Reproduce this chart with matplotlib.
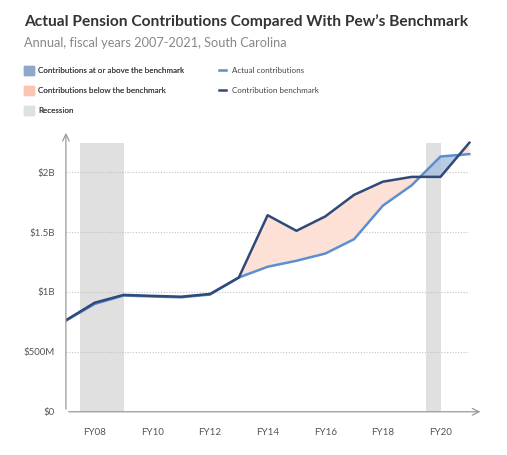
import numpy as np
import matplotlib.pyplot as plt
from matplotlib.patches import Patch
from matplotlib.lines import Line2D

plt.rcParams['font.family'] = ['Lato', 'DejaVu Sans']

# data (billions of dollars)
years = [2007, 2008, 2009, 2010, 2011, 2012, 2013, 2014, 2015, 2016, 2017, 2018, 2019, 2020, 2021]
benchmark = [0.764, 0.91, 0.975, 0.967, 0.96, 0.983, 1.12, 1.64, 1.51, 1.63, 1.81, 1.92, 1.96, 1.96, 2.245]
actual = [0.76, 0.90, 0.97, 0.962, 0.955, 0.978, 1.12, 1.21, 1.26, 1.32, 1.44, 1.72, 1.89, 2.13, 2.15]
recessions = [(2007.5, 2009.0), (2019.5, 2020.0)]
tick_years = [2008, 2010, 2012, 2014, 2016, 2018, 2020]
tick_labels = ['FY08', 'FY10', 'FY12', 'FY14', 'FY16', 'FY18', 'FY20']
y_ticks = [0, 0.5, 1.0, 1.5, 2.0]
y_labels = ['$0', '$500M', '$1B', '$1.5B', '$2B']

dark = '#2f4a78'
light = '#5b8fcf'
pink = '#fde1d7'
blue_fill = '#a8c0e0'
rec_color = '#e0e0e0'
grey = '#999999'

x = np.array(years)
b = np.array(benchmark)
a = np.array(actual)

fig = plt.figure(figsize=(5.07, 4.55), dpi=100)
ax = fig.add_axes([0.130, 0.095, 0.823, 0.619])
ax.set_xlim(2007, 2021.48)
ax.set_ylim(0, 2.35)

# recession bands
for r0, r1 in recessions:
    ax.fill_between([r0, r1], 0, 2.245, color=rec_color, lw=0, zorder=0)

# gridlines
for yt in y_ticks[1:]:
    ax.hlines(yt, 2007, 2021, colors='#c4c4c4', linestyles=(0, (1.0, 1.5)), lw=0.8, zorder=1)

# shaded gaps
ax.fill_between(x, a, b, where=a < b, interpolate=True, color=pink, lw=0, zorder=2)
ax.fill_between(x, a, b, where=a >= b, interpolate=True, color=blue_fill, alpha=0.8, lw=0, zorder=2)

ax.plot(x, a, color=light, lw=1.8, zorder=3)
ax.plot(x, b, color=dark, lw=1.8, zorder=4)

# axes styling
for s in ['top', 'right', 'left', 'bottom']:
    ax.spines[s].set_visible(False)
ax.annotate('', xy=(1, 0), xytext=(0, 0), xycoords='axes fraction',
            arrowprops=dict(arrowstyle='->', color=grey, lw=0.9, mutation_scale=12), zorder=5)
ax.annotate('', xy=(0, 1), xytext=(0, 0), xycoords='axes fraction',
            arrowprops=dict(arrowstyle='->', color=grey, lw=0.9, mutation_scale=12), zorder=5)

ax.set_xticks(tick_years)
ax.set_xticklabels(tick_labels)
ax.set_yticks(y_ticks)
ax.set_yticklabels(y_labels)
ax.tick_params(length=0, labelsize=7, colors='#555555', pad=8)
ax.tick_params(axis='x', pad=12)

# title and subtitle
fig.text(0.047, 0.952, 'Actual Pension Contributions Compared With Pew\u2019s Benchmark',
         fontsize=11.2, fontweight='bold', color='#333333', va='center')
fig.text(0.047, 0.905, 'Annual, fiscal years 2007-2021, South Carolina',
         fontsize=9.2, color='#888888', va='center')

# legend
handles1 = [Patch(color='#8ea7cb', label='Contributions at or above the benchmark'),
            Patch(color='#fbc4b0', label='Contributions below the benchmark'),
            Patch(color=rec_color, label='Recession')]
handles2 = [Line2D([], [], color=light, lw=1.8, label='Actual contributions'),
            Line2D([], [], color=dark, lw=1.8, label='Contribution benchmark')]
leg1 = fig.legend(handles=handles1, loc='upper left', bbox_to_anchor=(0.033, 0.87),
                  frameon=False, fontsize=5.8, handlelength=1.2, handleheight=1.2,
                  labelspacing=1.45, handletextpad=0.6, labelcolor='#444444')
fig.legend(handles=handles2, loc='upper left', bbox_to_anchor=(0.418, 0.87),
           frameon=False, fontsize=5.8, handlelength=0.8, handleheight=1.2,
           labelspacing=1.45, handletextpad=0.8, labelcolor='#444444')
fig.add_artist(leg1)

fig.savefig('out.png', dpi=100)
